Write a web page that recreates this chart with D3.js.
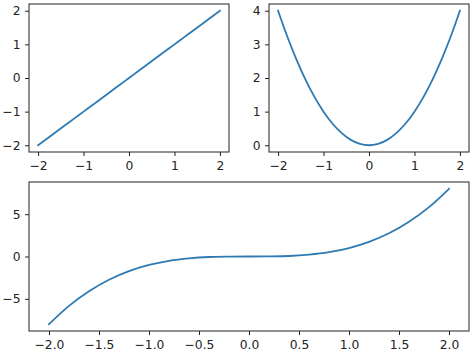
<!DOCTYPE html>
<html>
<head>
<meta charset="utf-8">
<script src="https://cdn.jsdelivr.net/npm/d3@7"></script>
<style>
  body { margin: 0; background: #fff; }
  svg { display: block; }
  text { font-family: "DejaVu Sans", sans-serif; }
</style>
</head>
<body>
<div id="app"></div>
<script>
// sample x positions shared by the three panels
const xs = [-2, -1.8, -1.6, -1.4, -1.2, -1, -0.8, -0.6, -0.4, -0.2, 0,
  0.2, 0.4, 0.6, 0.8, 1, 1.2, 1.4, 1.6, 1.8, 2];

// values
const linearY = [-2, -1.8, -1.6, -1.4, -1.2, -1, -0.8, -0.6, -0.4, -0.2, 0,
  0.2, 0.4, 0.6, 0.8, 1, 1.2, 1.4, 1.6, 1.8, 2];
const squareY = [4, 3.24, 2.56, 1.96, 1.44, 1, 0.64, 0.36, 0.16, 0.04, 0,
  0.04, 0.16, 0.36, 0.64, 1, 1.44, 1.96, 2.56, 3.24, 4];
const cubeY = [-8, -5.83, -4.1, -2.74, -1.73, -1, -0.51, -0.22, -0.06, -0.01, 0,
  0.01, 0.06, 0.22, 0.51, 1, 1.73, 2.74, 4.1, 5.83, 8];

const topXTicks = [-2, -1, 0, 1, 2];
const linearYTicks = [-2, -1, 0, 1, 2];
const squareYTicks = [0, 1, 2, 3, 4];
const bottomXTicks = [-2, -1.5, -1, -0.5, 0, 0.5, 1, 1.5, 2];
const cubeYTicks = [-5, 0, 5];

const width = 474;
const height = 355;

const svg = d3
  .create("svg")
  .attr("width", width)
  .attr("height", height)
  .attr("viewBox", [0, 0, width, height]);

const fmt = (d) => String(d).replace("-", "\u2212");
const fmt1 = (d) => d.toFixed(1).replace("-", "\u2212");

function panel(box, xDomain, yDomain, ys, xTicks, yTicks, xFmt) {
  const x = d3.scaleLinear().domain(xDomain).range([box.x0, box.x1]);
  const y = d3.scaleLinear().domain(yDomain).range([box.y1, box.y0]);

  const g = svg.append("g");

  const line = d3
    .line()
    .x((d, i) => x(xs[i]))
    .y((d) => y(d))
    .curve(d3.curveCatmullRom);

  g.append("path")
    .attr("d", line(ys))
    .attr("fill", "none")
    .attr("stroke", "#2f7ab2")
    .attr("stroke-width", 1.8)
    .attr("stroke-linecap", "square");

  const xAxis = g
    .append("g")
    .attr("transform", `translate(0,${box.y1})`)
    .call(d3.axisBottom(x).tickValues(xTicks).tickFormat(xFmt).tickSize(4).tickPadding(5.5));

  const yAxis = g
    .append("g")
    .attr("transform", `translate(${box.x0},0)`)
    .call(d3.axisLeft(y).tickValues(yTicks).tickFormat(fmt).tickSize(4).tickPadding(4.5));

  for (const a of [xAxis, yAxis]) {
    a.select(".domain").remove();
    a.selectAll("line").attr("stroke", "#222").attr("stroke-width", 1);
    a.selectAll("text")
      .attr("fill", "#222")
      .attr("font-size", 12.3)
      .attr("font-family", "DejaVu Sans, sans-serif");
  }

  g.append("rect")
    .attr("x", box.x0)
    .attr("y", box.y0)
    .attr("width", box.x1 - box.x0)
    .attr("height", box.y1 - box.y0)
    .attr("fill", "none")
    .attr("stroke", "#222")
    .attr("stroke-width", 1);
}

panel({ x0: 29, x1: 229, y0: 4, y1: 152 }, [-2.2, 2.2], [-2.2, 2.2],
  linearY, topXTicks, linearYTicks, fmt);
panel({ x0: 269, x1: 469, y0: 4, y1: 152 }, [-2.2, 2.2], [-0.2, 4.2],
  squareY, topXTicks, squareYTicks, fmt);
panel({ x0: 29, x1: 469, y0: 182, y1: 331 }, [-2.2, 2.2], [-8.8, 8.8],
  cubeY, bottomXTicks, cubeYTicks, fmt1);

document.getElementById("app").append(svg.node());
</script>
</body>
</html>
